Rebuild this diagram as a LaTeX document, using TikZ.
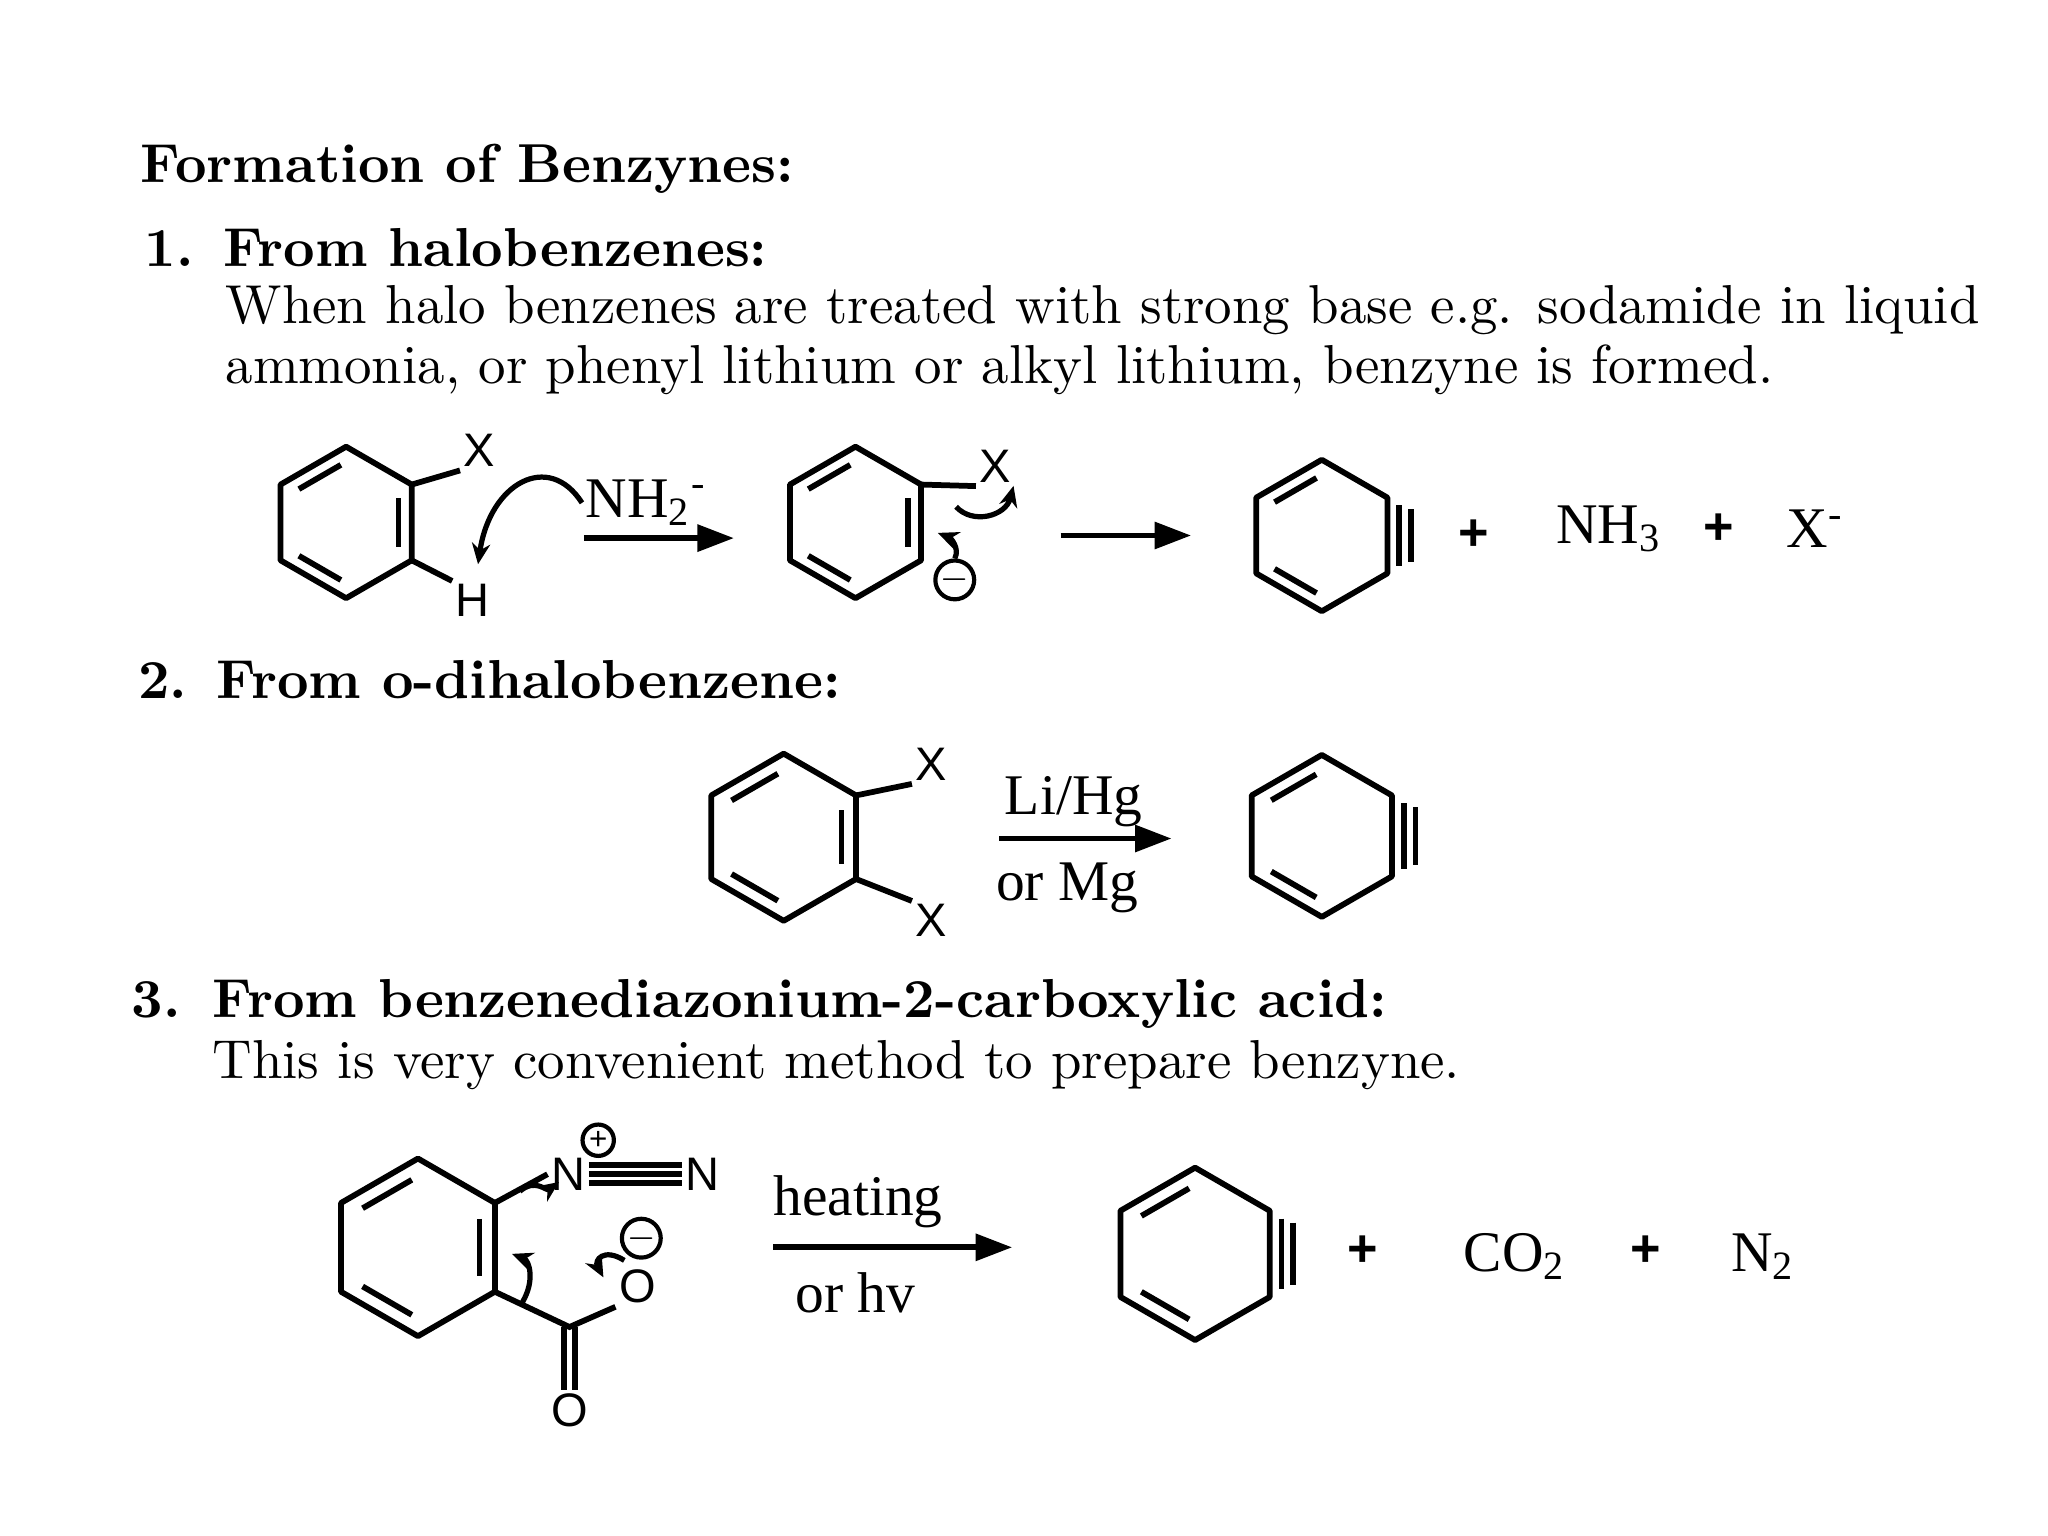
\documentclass[tikz,border=0pt]{standalone}
\usepackage{fontspec}
\usetikzlibrary{calc,arrows.meta}
\newfontfamily\arl{Liberation Sans}
\newfontfamily\tnr{Liberation Serif}
\newcommand\ring[4]{% name cx cy r
 \coordinate (#1) at (#2,#3);
 \foreach \a/\n in {-90/t,-30/ur,30/lr,90/b,150/ll,-150/ul} \coordinate (#1\n) at ($(#1)+(\a:#4)$);
 \draw[bond,line join=round] (#1t)--(#1ur)--(#1lr)--(#1b)--(#1ll)--(#1ul)--cycle;}
\newcommand\dbl[3]{%
 \path ($(#1)!0.8!(#2)$) coordinate (tmpa) ($(#1)!0.8!(#3)$) coordinate (tmpb);
 \draw[bond] ($(tmpa)!0.1!(tmpb)$) -- ($(tmpa)!0.9!(tmpb)$);}
\newcommand\yne[2]{% outer lines of triple bond
 \draw[bond] ($(#1ur)+(#2,6)$) -- ($(#1lr)+(#2,-6)$);
 \draw[bond] ($(#1ur)+(2*#2,9)$) -- ($(#1lr)+(2*#2,-9)$);}
\tikzset{bond/.style={line width=1.1pt},
 txt/.style={anchor=base west,inner sep=0pt,font=\fontsize{10.5}{12}\selectfont},
 hd/.style={txt,font=\fontsize{10.5}{12}\selectfont\bfseries},
 atm/.style={inner sep=0.5pt,font=\arl\fontsize{9}{10}\selectfont},
 tm/.style={inner sep=0.5pt,font=\tnr\fontsize{11}{12}\selectfont},
 pl/.style={inner sep=0.5pt,font=\arl\bfseries\fontsize{10}{12}\selectfont},
 rx/.style={line width=1.1pt,-{Triangle[length=7pt,width=5pt]}},
 cur/.style={line width=1pt,-{Stealth[length=4pt,width=3.5pt]}},
 chg/.style={circle,draw,line width=0.8pt,inner sep=0pt,minimum size=6pt,font=\arl\fontsize{6}{6}\selectfont}}
\begin{document}
\begin{tikzpicture}[x=0.25pt,y=-0.25pt]
\useasboundingbox (0,0) rectangle (1568,1176);
% texts
\node[hd] (t0) at (107,140) {Formation of Benzynes:};
\node[hd] (n1) at (110,204) {1.};
\node[hd] (t1) at (170,204) {From halobenzenes:};
\node[txt] (b1) at (172,248) {When halo benzenes are treated with strong base e.g. sodamide in liquid};
\node[txt] (b2) at (172,294) {ammonia, or phenyl lithium or alkyl lithium, benzyne is formed.};
\node[hd] (n2) at (105,535) {2.};
\node[hd] (t2) at (165,535) {From o-dihalobenzene:};
\node[hd] (n3) at (100,779) {3.};
\node[hd] (t3) at (162,779) {From benzenediazonium-2-carboxylic acid:};
\node[txt] (b3) at (162,826) {This is very convenient method to prepare benzyne.};
% scheme 1
\ring{A}{265}{400}{58}
\dbl{A}{Aul}{At}\dbl{A}{Aur}{Alr}\dbl{A}{Ab}{All}
\node[atm] (AX) at (367,345) {X};
\node[atm] (AH) at (362,460) {H};
\draw[bond] (Aur) -- (AX.south west);
\draw[bond] (Alr) -- (AH.north west);
\node[tm] (nh2) at (495,385) {NH\textsubscript{2}\textsuperscript{-}};
\coordinate (ar1s) at (447,412); \coordinate (ar1e) at (562,412);
\draw[rx] (ar1s) -- (ar1e);
\draw[cur] (nh2.west) .. controls (420,345) and (375,370) .. (366,432);
\ring{B}{655}{400}{58}
\dbl{B}{Bul}{Bt}\dbl{B}{Bur}{Blr}\dbl{B}{Bb}{Bll}
\node[atm] (BX) at (762,357) {X};
\draw[bond] (Bur) -- (BX.south west);
\draw[cur] (732,388) .. controls (745,402) and (770,395) .. (776,372);
\node[chg] (Bm) at (731,444) {$-$};
\draw[cur] (Bm.north) .. controls (735,420) and (728,412) .. (718,408);
\coordinate (ar2s) at (812,410); \coordinate (ar2e) at (912,410);
\draw[rx] (ar2s) -- (ar2e);
\ring{C}{1012}{410}{58}
\dbl{C}{Cul}{Ct}\dbl{C}{Cb}{Cll}\yne{C}{9}
\node[pl] (p1) at (1128,410) {+};
\node[tm] (nh3) at (1232,405) {NH\textsubscript{3}};
\node[pl] (p2) at (1316,405) {+};
\node[tm] (xm) at (1390,405) {X\textsuperscript{-}};
% scheme 2
\ring{D}{600}{641}{64}
\dbl{D}{Dul}{Dt}\dbl{D}{Dur}{Dlr}\dbl{D}{Db}{Dll}
\node[atm] (DX1) at (713,585) {X};
\node[atm] (DX2) at (713,705) {X};
\draw[bond] (Dur) -- (DX1.south west);
\draw[bond] (Dlr) -- (DX2.north west);
\coordinate (ar3s) at (765,642); \coordinate (ar3e) at (897,642);
\draw[rx] (ar3s) -- (ar3e);
\node[tm] (lihg) at (822,614) {Li/Hg};
\node[tm] (ormg) at (817,680) {or Mg};
\ring{E}{1012}{640}{62}
\dbl{E}{Eul}{Et}\dbl{E}{Eb}{Ell}\yne{E}{9}
% scheme 3
\ring{F}{320}{955}{68}
\dbl{F}{Ful}{Ft}\dbl{F}{Fur}{Flr}\dbl{F}{Fb}{Fll}
\node[atm] (FN1) at (435,899) {N};
\node[atm] (FN2) at (538,899) {N};
\node[chg] (Fp) at (458,873) {+};
\draw[bond] (Fur) -- (FN1.west);
\draw[bond] (FN1.east) -- (FN2.west);
\draw[bond] ($(FN1.east)+(0,-7)$) -- ($(FN2.west)+(0,-7)$);
\draw[bond] ($(FN1.east)+(0,7)$) -- ($(FN2.west)+(0,7)$);
\coordinate (FC) at (436,1016);
\node[atm] (FO1) at (488,985) {O};
\node[atm] (FO2) at (436,1080) {O};
\node[chg] (Fm) at (491,948) {$-$};
\draw[bond] (Flr) -- (FC) -- (FO1.south west);
\draw[bond] ($(FC)+(-4,0)$) -- ($(FO2.north)+(-4,0)$);
\draw[bond] ($(FC)+(4,0)$) -- ($(FO2.north)+(4,0)$);
\draw[cur] (400,997) .. controls (410,980) and (405,965) .. (392,960);
\draw[cur] (478,965) .. controls (462,955) and (455,965) .. (462,978);
\draw[cur] (398,912) .. controls (410,902) and (418,912) .. (428,905);
\coordinate (ar4s) at (592,955); \coordinate (ar4e) at (775,955);
\draw[rx] (ar4s) -- (ar4e);
\node[tm] (heat) at (657,920) {heating};
\node[tm] (orhv) at (655,990) {or hv};
\ring{G}{915}{960}{66}
\dbl{G}{Gul}{Gt}\dbl{G}{Gb}{Gll}\yne{G}{9}
\node[pl] (p3) at (1043,958) {+};
\node[tm] (co2) at (1160,962) {CO\textsubscript{2}};
\node[pl] (p4) at (1260,958) {+};
\node[tm] (n2) at (1350,962) {N\textsubscript{2}};
\end{tikzpicture}
\end{document}
